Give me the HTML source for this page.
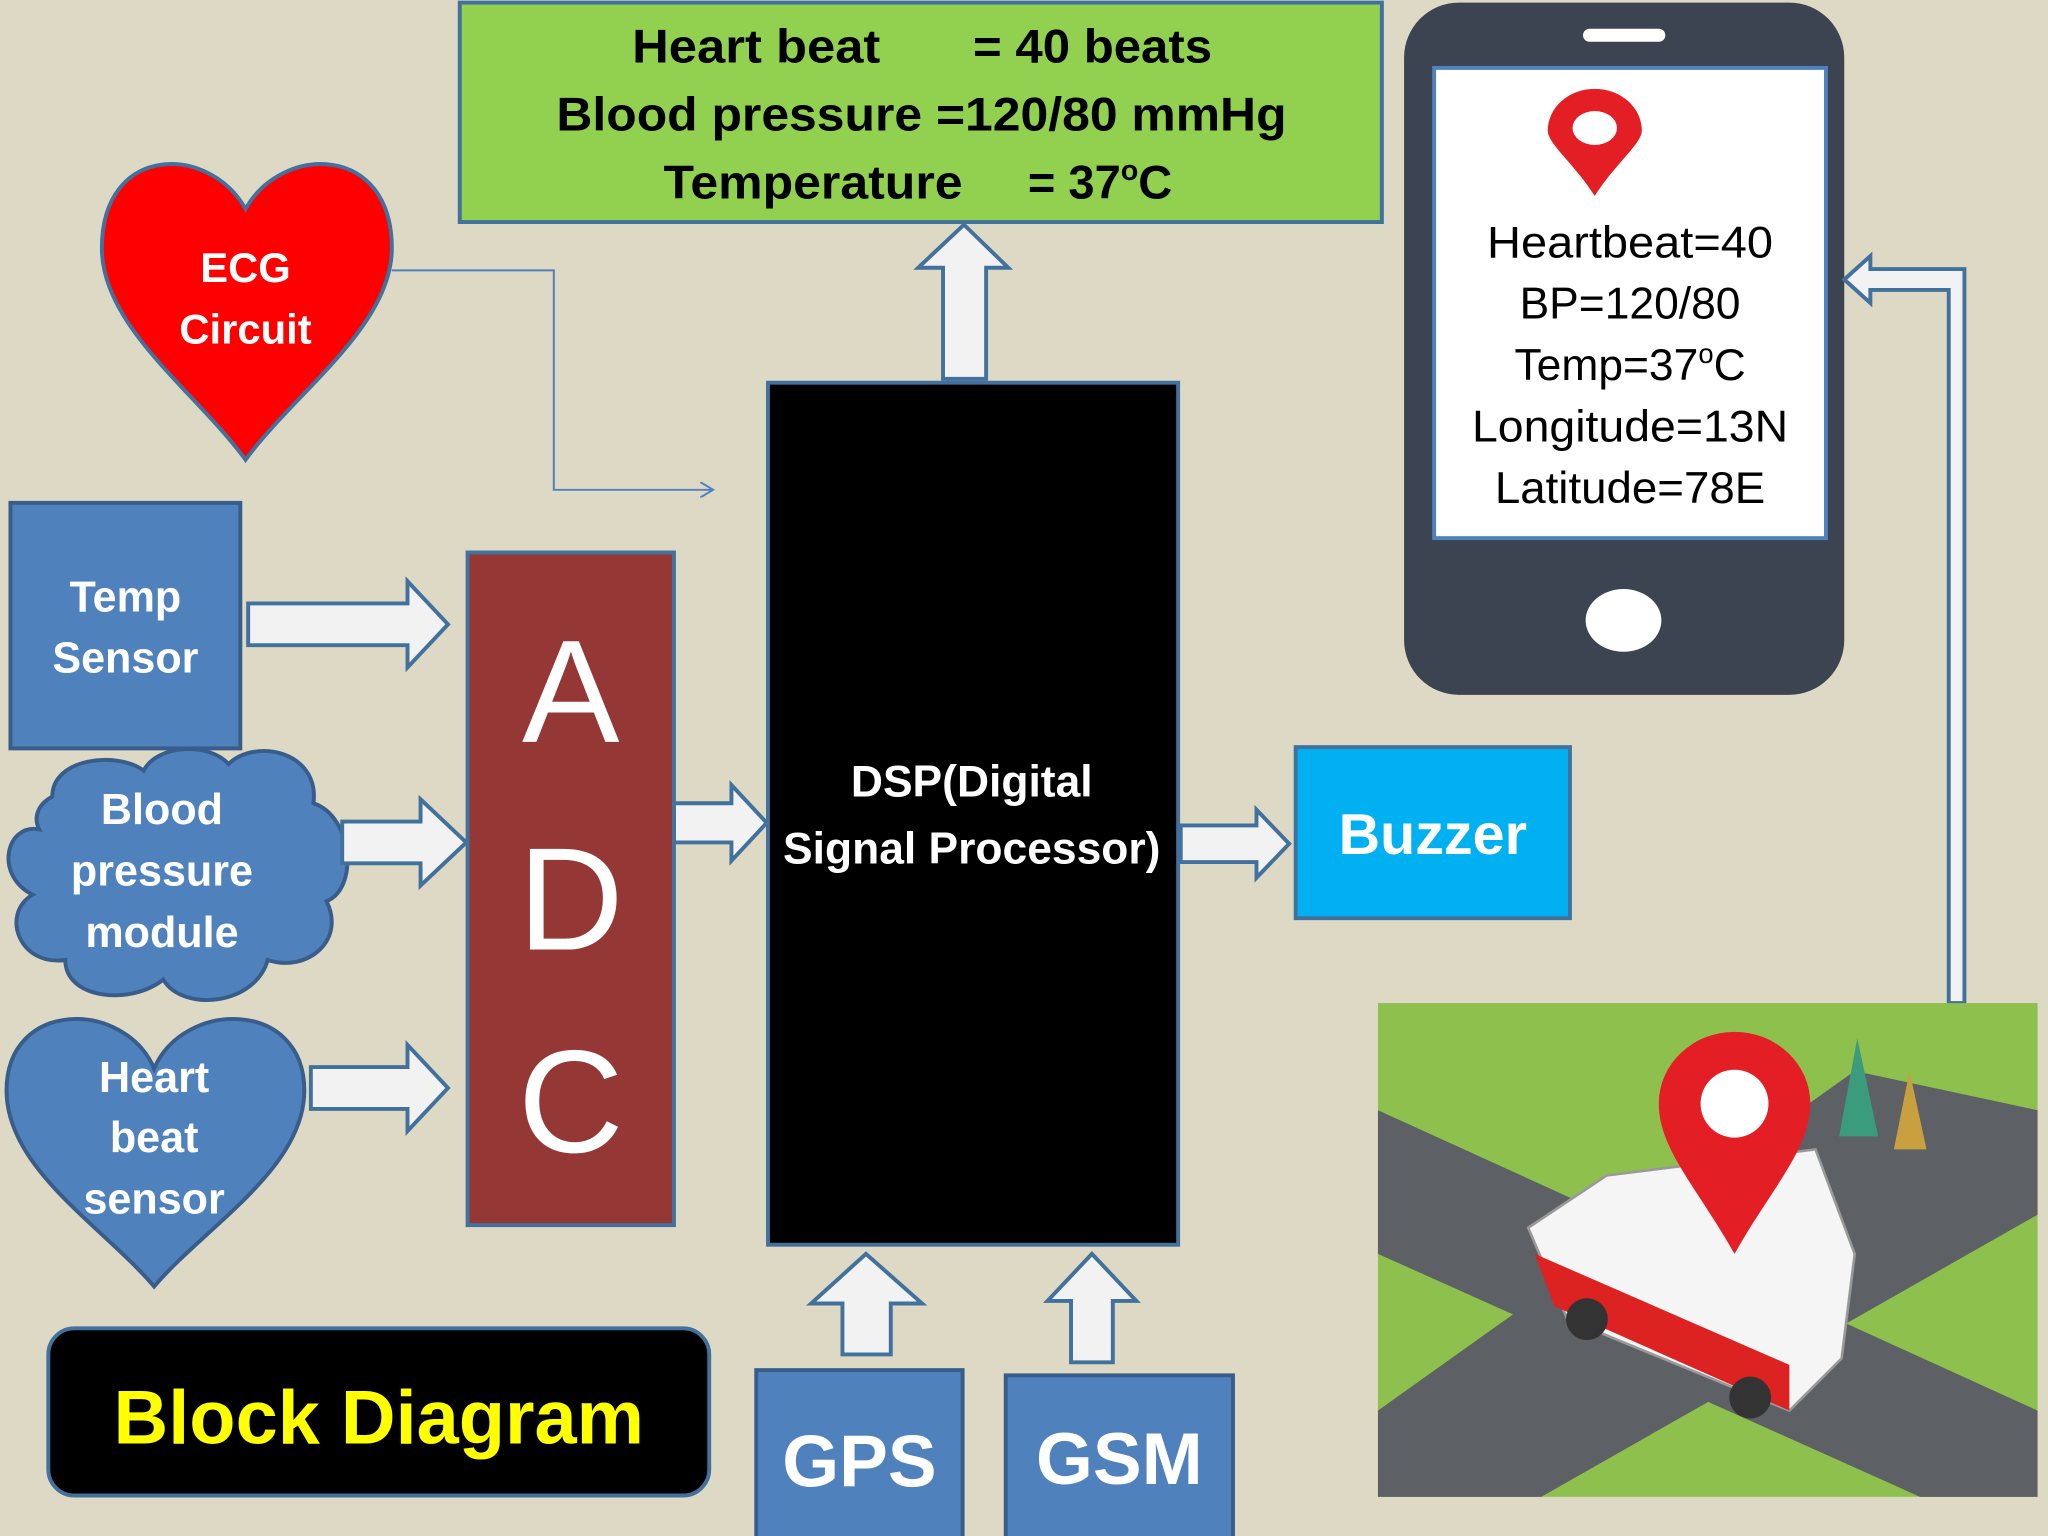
<!DOCTYPE html>
<html><head><meta charset="utf-8"><style>
html,body{margin:0;padding:0;background:#ddd9c4;}
svg{display:block;}
text{font-family:"Liberation Sans",sans-serif;}
</style></head><body>
<svg width="2048" height="1536" viewBox="0 0 1568 1176" xmlns="http://www.w3.org/2000/svg">
<rect width="1568" height="1176" fill="#ddd9c4"/>
<defs>
<marker id="ah" markerWidth="12" markerHeight="12" refX="10" refY="6" orient="auto" markerUnits="userSpaceOnUse">
<path d="M0,0 L10,6 L0,12" fill="none" stroke="#4f81bd" stroke-width="1.5"/></marker>
</defs>
<!-- green box -->
<rect x="352" y="2" width="706" height="168" fill="#92d050" stroke="#41719c" stroke-width="3"/>
<g font-weight="bold" font-size="36" fill="#000">
<text x="484" y="48" textLength="190" lengthAdjust="spacingAndGlyphs">Heart beat</text><text x="745" y="48" textLength="183" lengthAdjust="spacingAndGlyphs">= 40 beats</text>
<text x="426" y="100" textLength="559" lengthAdjust="spacingAndGlyphs">Blood pressure =120/80 mmHg</text>
<text x="508" y="152" textLength="229" lengthAdjust="spacingAndGlyphs">Temperature</text><text x="787" y="152">= 37<tspan font-size="22" dy="-14">o</tspan><tspan dy="14">C</tspan></text>
</g>
<!-- ECG heart -->
<path d="M188,160 C160,110 78,110 78,190 C78,250 150,300 188,352 C226,300 300,250 300,190 C300,110 216,110 188,160 Z" fill="#ff0000" stroke="#41719c" stroke-width="3"/>
<g font-weight="bold" font-size="32" fill="#fff" text-anchor="middle">
<text x="188" y="216">ECG</text><text x="188" y="263">Circuit</text></g>
<polyline points="300,207 424,207 424,375 546,375" fill="none" stroke="#4f81bd" stroke-width="1.5" marker-end="url(#ah)"/>
<!-- Temp sensor -->
<rect x="8" y="385" width="176" height="188" fill="#4f81bd" stroke="#385d8a" stroke-width="3"/>
<g font-weight="bold" font-size="33" fill="#fff" text-anchor="middle">
<text x="96" y="468">Temp</text><text x="96" y="515">Sensor</text></g>
<!-- cloud -->
<g fill="#4f81bd" stroke="#385d8a" stroke-width="3">
<path d="M40,610 C40,580 90,575 110,590 C120,570 160,568 175,585 C195,565 245,575 240,615 C270,625 275,680 250,690 C265,720 235,745 205,735 C195,770 140,775 125,750 C100,770 50,765 50,735 C15,740 0,700 25,685 C-5,670 5,630 30,635 C25,625 30,615 40,610 Z"/>
</g>
<g font-weight="bold" font-size="33" fill="#fff" text-anchor="middle">
<text x="124" y="631">Blood</text><text x="124" y="678">pressure</text><text x="124" y="725">module</text></g>
<!-- heart blue -->
<path d="M118,818 C95,765 5,765 5,835 C5,895 80,940 118,985 C156,940 233,895 233,835 C233,765 141,765 118,818 Z" fill="#4f81bd" stroke="#385d8a" stroke-width="3"/>
<g font-weight="bold" font-size="33" fill="#fff" text-anchor="middle">
<text x="118" y="836">Heart</text><text x="118" y="882">beat</text><text x="118" y="929">sensor</text></g>
<!-- block arrows -->
<g fill="#f2f2f2" stroke="#41719c" stroke-width="3">
<path d="M190,462 L312,462 L312,445 L343,478 L312,511 L312,494 L190,494 Z"/>
<path d="M262,629 L322,629 L322,612 L357,645 L322,678 L322,661 L262,661 Z"/>
<path d="M238,817 L312,817 L312,800 L343,833 L312,866 L312,849 L238,849 Z"/>
<path d="M516,615 L560,615 L560,601 L587,630 L560,659 L560,645 L516,645 Z"/>
<path d="M904,632 L962,632 L962,620 L987,646 L962,672 L962,660 L904,660 Z"/>
<path d="M722,290 L722,205 L703,205 L738,172 L772,205 L755,205 L755,290 Z"/>
<path d="M645,1037 L645,998 L621,998 L663,960 L706,998 L682,998 L682,1037 Z"/>
<path d="M820,1043 L820,996 L802,996 L836,960 L870,996 L852,996 L852,1043 Z"/>
</g>
<!-- ADC -->
<rect x="358" y="423" width="158" height="515" fill="#953735" stroke="#41719c" stroke-width="3"/>
<g font-size="112" fill="#fff" text-anchor="middle">
<text x="437" y="568">A</text><text x="437" y="727">D</text><text x="437" y="882">C</text></g>
<!-- DSP -->
<rect x="588" y="293" width="314" height="660" fill="#000" stroke="#41719c" stroke-width="3"/>
<g font-weight="bold" font-size="34" fill="#fff" text-anchor="middle">
<text x="744" y="610">DSP(Digital</text><text x="744" y="661">Signal Processor)</text></g>
<!-- Buzzer -->
<rect x="992" y="572" width="210" height="131" fill="#00b0f0" stroke="#41719c" stroke-width="3"/>
<text x="1097" y="654" font-weight="bold" font-size="44" fill="#fff" text-anchor="middle">Buzzer</text>
<!-- GPS / GSM -->
<rect x="579" y="1049" width="158" height="130" fill="#4f81bd" stroke="#385d8a" stroke-width="3"/>
<rect x="770" y="1053" width="174" height="126" fill="#4f81bd" stroke="#385d8a" stroke-width="3"/>
<g font-weight="bold" font-size="56" fill="#fff" text-anchor="middle">
<text x="658" y="1138">GPS</text><text x="857" y="1136">GSM</text></g>
<!-- Block Diagram -->
<rect x="37" y="1017" width="506" height="128" rx="20" fill="#000" stroke="#41719c" stroke-width="3"/>
<text x="290" y="1105" font-weight="bold" font-size="58" fill="#ffff00" text-anchor="middle">Block Diagram</text>
<!-- phone -->
<rect x="1075" y="2" width="337" height="530" rx="42" fill="#3b4450"/>
<rect x="1098" y="52" width="300" height="360" fill="#fff" stroke="#4f81bd" stroke-width="3"/>
<rect x="1212" y="22" width="63" height="10" rx="5" fill="#fff"/>
<ellipse cx="1243" cy="475" rx="29" ry="24" fill="#fff"/>
<path d="M1221,150 C1205,125 1185,110 1185,100 A36,32 0 1 1 1257,100 C1257,110 1237,125 1221,150 Z" fill="#e31e24"/>
<ellipse cx="1221" cy="98" rx="17" ry="13" fill="#fff"/>
<g font-size="34" fill="#000" text-anchor="middle">
<text x="1248" y="197" textLength="219" lengthAdjust="spacingAndGlyphs">Heartbeat=40</text><text x="1248" y="244">BP=120/80</text>
<text x="1248" y="291">Temp=37<tspan font-size="21" dy="-13">o</tspan><tspan dy="13">C</tspan></text>
<text x="1248" y="338" textLength="242" lengthAdjust="spacingAndGlyphs">Longitude=13N</text><text x="1248" y="385" textLength="207" lengthAdjust="spacingAndGlyphs">Latitude=78E</text></g>
<!-- return arrow -->
<path d="M1492,768 L1492,222 L1432,222 L1432,232 L1412,214 L1432,196 L1432,206 L1504,206 L1504,768 Z" fill="#f2f2f2" stroke="#41719c" stroke-width="3"/>
<!-- map -->
<rect x="1055" y="768" width="505" height="378" fill="#8dc04c"/>
<path d="M1055,850 L1560,1080 L1560,1146 L1470,1146 L1055,960 Z" fill="#5d6064"/>
<path d="M1055,1146 L1055,1080 L1420,820 L1560,850 L1560,930 L1180,1146 Z" fill="#5d6064"/>
<path d="M1230,900 L1390,880 L1420,960 L1410,1040 L1370,1080 L1200,1010 L1170,940 Z" fill="#f5f5f5" stroke="#999" stroke-width="2"/>
<path d="M1175,960 L1370,1045 L1370,1080 L1190,1000 Z" fill="#d22"/>
<circle cx="1215" cy="1010" r="16" fill="#333"/><circle cx="1340" cy="1070" r="16" fill="#333"/>
<path d="M1328,960 C1300,910 1270,880 1270,845 A58,55 0 1 1 1386,845 C1386,880 1356,910 1328,960 Z" fill="#e31e24"/>
<circle cx="1328" cy="845" r="26" fill="#fff"/>
<path d="M1408,870 L1422,795 L1438,870 Z" fill="#3a9c7c"/>
<path d="M1450,880 L1462,820 L1475,880 Z" fill="#c9a040"/>
</svg>
</body></html>
